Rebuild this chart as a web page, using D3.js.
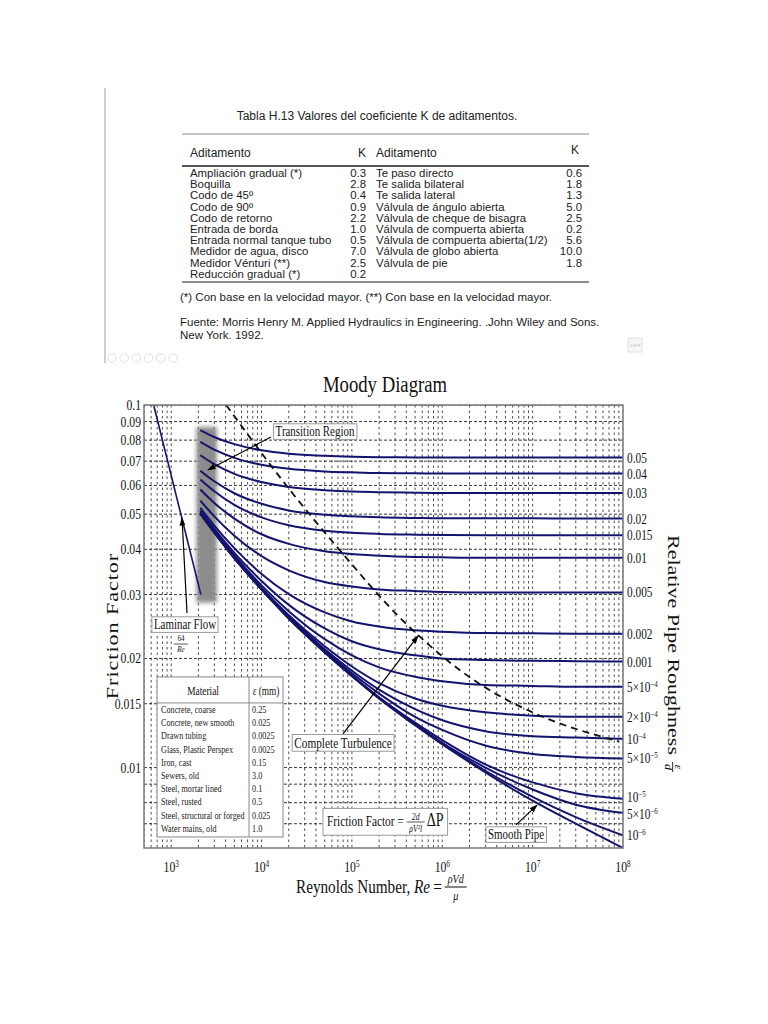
<!DOCTYPE html>
<html lang="es">
<head>
<meta charset="UTF-8"/>
<title>Moody Diagram</title>
<style>
  *{margin:0;padding:0}
  body{background:#fff;width:768px;height:1024px;overflow:hidden}
  svg{display:block}
</style>
</head>
<body>
<svg id="page" width="768" height="1024"></svg>
<script src="https://d3js.org/d3.v7.min.js"></script>
<script>
// ---------- Tabla H.13 ----------
const fittingsA = ['Ampliación gradual (*)','Boquilla','Codo de 45º','Codo de 90º','Codo de retorno',
  'Entrada de borda','Entrada normal tanque tubo','Medidor de agua, disco','Medidor Vénturi (**)','Reducción gradual (*)'];
const kA = ['0.3','2.8','0.4','0.9','2.2','1.0','0.5','7.0','2.5','0.2'];
const fittingsB = ['Te paso directo','Te salida bilateral','Te salida lateral','Válvula de ángulo abierta',
  'Válvula de cheque de bisagra','Válvula de compuerta abierta','Válvula de compuerta abierta(1/2)',
  'Válvula de globo abierta','Válvula de pie'];
const kB = ['0.6','1.8','1.3','5.0','2.5','0.2','5.6','10.0','1.8'];

// ---------- Moody diagram ----------
const reynolds = [2100, 3000, 5000, 1e4, 2e4, 5e4, 1e5, 2e5, 5e5, 1e6, 3e6, 1e7, 3e7, 1e8];
const roughLabels = ['0.05','0.04','0.03','0.02','0.015','0.01','0.005','0.002','0.001',
  '5×10^-4','2×10^-4','10^-4','5×10^-5','10^-5','5×10^-6','10^-6'];
// friction factor, at the reynolds values above
const friction = [
  [0.0853,0.0816,0.0780,0.0750,0.0734,0.0724,0.0720,0.0718,0.0717,0.0716,0.0716,0.0716,0.0716,0.0716],
  [0.0791,0.0753,0.0715,0.0684,0.0667,0.0656,0.0652,0.0649,0.0648,0.0647,0.0647,0.0647,0.0647,0.0647],
  [0.0727,0.0687,0.0646,0.0613,0.0594,0.0582,0.0577,0.0575,0.0573,0.0572,0.0572,0.0572,0.0572,0.0572],
  [0.0659,0.0616,0.0571,0.0534,0.0512,0.0498,0.0493,0.0490,0.0488,0.0487,0.0487,0.0487,0.0486,0.0486],
  [0.0623,0.0578,0.0530,0.0490,0.0466,0.0450,0.0444,0.0441,0.0439,0.0438,0.0437,0.0437,0.0437,0.0437],
  [0.0585,0.0537,0.0486,0.0440,0.0414,0.0395,0.0388,0.0384,0.0381,0.0380,0.0379,0.0379,0.0379,0.0379],
  [0.0545,0.0493,0.0436,0.0383,0.0350,0.0325,0.0316,0.0310,0.0307,0.0305,0.0304,0.0304,0.0304,0.0304],
  [0.0520,0.0465,0.0403,0.0342,0.0301,0.0268,0.0253,0.0245,0.0239,0.0237,0.0235,0.02345,0.0234,0.0234],
  [0.0511,0.0455,0.0391,0.0327,0.0281,0.0242,0.0223,0.0212,0.0204,0.0200,0.0198,0.0197,0.01965,0.0196],
  [0.0507,0.0450,0.0385,0.0318,0.0270,0.0226,0.0204,0.0189,0.0178,0.0173,0.0169,0.0168,0.0167,0.0167],
  [0.0504,0.0447,0.0381,0.0313,0.0263,0.0216,0.0190,0.0171,0.0155,0.0148,0.0142,0.0139,0.0138,0.0138],
  [0.0503,0.0446,0.0380,0.0312,0.0261,0.0212,0.0185,0.0164,0.0145,0.0135,0.0126,0.0122,0.0121,0.0120],
  [0.0503,0.0445,0.0379,0.0311,0.0259,0.0210,0.0182,0.0160,0.0138,0.0127,0.0115,0.0109,0.0107,0.0106],
  [0.0502,0.0445,0.0378,0.0310,0.0258,0.0208,0.0179,0.0156,0.0133,0.0119,0.0102,0.0091,0.0085,0.0082],
  [0.0502,0.0445,0.0378,0.0310,0.0258,0.0208,0.0179,0.0156,0.0132,0.0117,0.0100,0.0087,0.0079,0.0075],
  [0.0502,0.0445,0.0378,0.0310,0.0258,0.0208,0.0179,0.0155,0.0131,0.0116,0.0098,0.0083,0.0073,0.0065]
];
const smoothPipe = [0.0502,0.0445,0.0378,0.0310,0.0258,0.0208,0.0179,0.0155,0.0131,0.0116,0.0097,0.0081,0.0070,0.0060];
const laminarRe = [640, 2130];
const laminarF = [0.1, 0.03];
// dashed boundary of complete turbulence
const turbRe = [4060, 19700, 72000, 325000, 2.9e6, 9.6e6, 9e7];
const turbF = [0.1, 0.0591, 0.040, 0.0262, 0.0167, 0.01426, 0.0118];
const transRe = [1900, 3200];
const transF = [0.087, 0.0285];
const yTicks = [0.1,0.09,0.08,0.07,0.06,0.05,0.04,0.03,0.02,0.015,0.01];
const yGridExtra = [0.009,0.008,0.007];
const xTickExp = [3,4,5,6,7,8];
const materials = ['Concrete, coarse','Concrete, new smooth','Drawn tubing','Glass, Plastic Perspex','Iron, cast',
  'Sewers, old','Steel, mortar lined','Steel, rusted','Steel, structural or forged','Water mains, old'];
const materialEps = ['0.25','0.025','0.0025','0.0025','0.15','3.0','0.1','0.5','0.025','1.0'];

const svg = d3.select('#page');
const serif = "'Liberation Serif','DejaVu Serif',serif";
const sans = "'Liberation Sans',Arial,sans-serif";
const SX = 0.78;   // the scanned figure is squeezed sideways
const ink = '#14146e';

function label(g, x, y, s, o = {}) {
  return g.append('text')
    .attr('transform', `translate(${x},${y}) scale(${o.sx ?? SX},1)`)
    .attr('text-anchor', o.anchor || 'start')
    .attr('font-family', o.font || serif)
    .attr('font-size', o.size || 14)
    .attr('font-style', o.italic ? 'italic' : null)
    .attr('fill', o.fill || '#111')
    .text(s);
}
function powLabel(g, x, y, s, o = {}) {
  const sz = o.size || 14;
  const t = label(g, x, y, '', o);
  const [base, sup] = s.split('^');
  t.append('tspan').text(base);
  if (sup) t.append('tspan').attr('dy', -sz * 0.36).attr('font-size', sz * 0.62).text(sup.replace('-', '−'));
  return t;
}

// ================= scanned table =================
const tab = svg.append('g');
tab.append('line').attr('x1',105).attr('x2',105).attr('y1',88).attr('y2',363).attr('stroke','#cfcfcf').attr('stroke-width',2);
d3.range(6).forEach(i => tab.append('circle').attr('cx',112+i*12.2).attr('cy',358).attr('r',4.3)
  .attr('fill','none').attr('stroke','#e0e0e0'));
tab.append('rect').attr('x',628).attr('y',338).attr('width',14).attr('height',14).attr('fill','#f6f6f6').attr('stroke','#e2e2e2');
tab.append('text').attr('x',635).attr('y',347).attr('text-anchor','middle').attr('font-size',4).attr('fill','#aaa').text('A W P');

const tx = {font:sans, size:11.4, sx:1, fill:'#222'};
label(tab, 377, 120, 'Tabla H.13 Valores del coeficiente K de aditamentos.', {...tx, size:12, anchor:'middle'});
[[134,1,'#8a8a8a'],[166,1.8,'#555'],[282,1.5,'#666']].forEach(([yy,w,c]) =>
  tab.append('line').attr('x1',182).attr('x2',589).attr('y1',yy).attr('y2',yy).attr('stroke',c).attr('stroke-width',w));
label(tab, 190, 157, 'Aditamento', {...tx, size:12});
label(tab, 366, 157, 'K', {...tx, size:12, anchor:'end'});
label(tab, 376, 157, 'Aditamento', {...tx, size:12});
label(tab, 579, 154, 'K', {...tx, size:12, anchor:'end'});
fittingsA.forEach((s,i) => {
  label(tab, 190, 177 + i*11.2, s, tx);
  label(tab, 366, 177 + i*11.2, kA[i], {...tx, anchor:'end'});
});
fittingsB.forEach((s,i) => {
  label(tab, 376, 177 + i*11.2, s, tx);
  label(tab, 582, 177 + i*11.2, kB[i], {...tx, anchor:'end'});
});
const fn = {font:sans, size:11.5, sx:1, fill:'#222'};
label(tab, 180, 301, '(*) Con base en la velocidad mayor. (**) Con base en la velocidad mayor.', fn);
label(tab, 180, 326, 'Fuente:  Morris Henry M. Applied Hydraulics in Engineering. .John Wiley and Sons.', fn);
label(tab, 180, 339, 'New York. 1992.', fn);

// ================= Moody diagram =================
const P = {l:144, r:623, t:405, b:848};
const x = d3.scaleLog().domain([500, 1e8]).range([P.l, P.r]);
const y = d3.scaleLog().domain([0.1, 0.006]).range([P.t, P.b]);
const moody = svg.append('g');

const defs = svg.append('defs');
defs.append('clipPath').attr('id','plot').append('rect')
  .attr('x',P.l).attr('y',P.t).attr('width',P.r-P.l).attr('height',P.b-P.t);
defs.append('filter').attr('id','soft').attr('x','-60%').attr('y','-20%').attr('width','220%').attr('height','140%')
  .append('feGaussianBlur').attr('stdDeviation',2.2);
defs.append('marker').attr('id','arr').attr('viewBox','0 0 10 10').attr('refX',9).attr('refY',5)
  .attr('markerWidth',7).attr('markerHeight',7).attr('orient','auto')
  .append('path').attr('d','M0,1.5L10,5L0,8.5z').attr('fill','#000');

label(moody, 385, 392, 'Moody Diagram', {size:24, anchor:'middle'});

// grid
const grid = moody.append('g').attr('clip-path','url(#plot)');
grid.selectAll('line.v').data(x.ticks(10)).join('line').attr('class','v')
  .attr('x1',d=>x(d)).attr('x2',d=>x(d)).attr('y1',P.t).attr('y2',P.b)
  .attr('stroke','#222').attr('stroke-width',0.8).attr('stroke-dasharray','2.5,3');
grid.selectAll('line.h').data(yTicks.concat(yGridExtra)).join('line').attr('class','h')
  .attr('x1',P.l).attr('x2',P.r).attr('y1',d=>y(d)).attr('y2',d=>y(d))
  .attr('stroke','#222').attr('stroke-width',0.9).attr('stroke-dasharray','3,2');

// transition band
moody.append('rect').attr('x',x(transRe[0])).attr('y',y(transF[0]))
  .attr('width',x(transRe[1])-x(transRe[0])).attr('height',y(transF[1])-y(transF[0]))
  .attr('fill','#8c8c8c').attr('filter','url(#soft)');

const plot = moody.append('g').attr('clip-path','url(#plot)');
const line = d3.line().x(d=>x(d[0])).y(d=>y(d[1])).curve(d3.curveMonotoneX);
plot.selectAll('path.rough').data(friction.concat([smoothPipe])).join('path').attr('class','rough')
  .attr('d', fs => line(reynolds.map((re,j)=>[re, fs[j]])))
  .attr('fill','none').attr('stroke',ink).attr('stroke-width',2);
plot.append('path').attr('d', line(laminarRe.map((re,i)=>[re, laminarF[i]])))
  .attr('fill','none').attr('stroke',ink).attr('stroke-width',1.6);
plot.append('path').attr('d', line(turbRe.map((re,i)=>[re, turbF[i]])))
  .attr('fill','none').attr('stroke','#111').attr('stroke-width',1.8).attr('stroke-dasharray','7,5');

// frame
moody.append('rect').attr('x',P.l).attr('y',P.t).attr('width',P.r-P.l).attr('height',P.b-P.t)
  .attr('fill','none').attr('stroke','#777').attr('stroke-width',1.5);

// y tick labels
yTicks.forEach(v => label(moody, P.l-3, y(v)+5, String(v), {size:15, anchor:'end'}));
// x tick labels
xTickExp.forEach(e => powLabel(moody, x(Math.pow(10,e)), 872, '10^'+e, {size:15, anchor:'middle'}));
// right-hand roughness labels, nudged apart where they crowd
let lastY = -Infinity;
roughLabels.forEach((s,i) => {
  let ty = y(friction[i][reynolds.length-1]) + 5;
  if (ty - lastY < 15) ty = lastY + 15;
  lastY = ty;
  powLabel(moody, P.r+4, ty, s, {size:14.5});
});
// keep 10^-5 clear of the 5x10^-6 label below it
moody.selectAll('text').filter(function(){ return this.textContent === '10−5'; })
  .attr('transform', function(){ return this.getAttribute('transform').replace(/,([\d.]+)\)/, (m,v)=>','+(+v-2)+')'); });

// axis titles
const yl = moody.append('g').attr('transform','translate(118,626) rotate(-90) scale(1,0.78)');
yl.append('text').attr('text-anchor','middle').attr('font-family',serif).attr('font-size',22)
  .attr('letter-spacing',1).attr('fill','#111').text('Friction Factor');
const rl = moody.append('g').attr('transform','translate(668,645) rotate(90) scale(1,0.78)');
rl.append('text').attr('text-anchor','middle').attr('font-family',serif).attr('font-size',22)
  .attr('fill','#111').text('Relative Pipe Roughness');
rl.append('text').attr('x',122).attr('y',-9).attr('text-anchor','middle').attr('font-family',serif)
  .attr('font-size',12).attr('font-style','italic').text('ε');
rl.append('line').attr('x1',117).attr('x2',127).attr('y1',-6).attr('y2',-6).attr('stroke','#111');
rl.append('text').attr('x',122).attr('y',4).attr('text-anchor','middle').attr('font-family',serif)
  .attr('font-size',12).attr('font-style','italic').text('d');

const xl = moody.append('g');
const xt = label(xl, 296, 893, '', {size:19.5});
xt.append('tspan').text('Reynolds Number, ');
xt.append('tspan').attr('font-style','italic').text('Re');
xt.append('tspan').attr('dx',4).text('=');
let bb = xl.node().getBBox();
const fx = bb.x + bb.width + 14;
label(xl, fx, 883, 'ρVd', {size:13, italic:true, anchor:'middle'});
xl.append('line').attr('x1',fx-11).attr('x2',fx+11).attr('y1',887).attr('y2',887).attr('stroke','#111');
label(xl, fx, 900, 'μ', {size:13, italic:true, anchor:'middle'});

// ---- annotations, anchored in data units ----
const notes = [
  {text:'Transition Region', at:[3.9e4, 0.0821], from:[1.27e4, 0.0816], to:[2550, 0.0662], size:14},
  {text:'Laminar Flow', at:[1420, 0.0241], from:[1496, 0.0267], to:[1317, 0.0488], size:14},
  {text:'Complete Turbulence', at:[7.97e4, 0.01133], from:[7.97e4, 0.01238], to:[5.39e5, 0.02307], size:14.5},
  {text:'Smooth Pipe', at:[6.55e6, 0.00635], from:[6.55e6, 0.00695], to:[1.118e7, 0.00788], size:14}
];
function boxIt(g, pad) {
  const b = g.node().getBBox();
  g.insert('rect', ':first-child').attr('x',b.x-pad).attr('y',b.y).attr('width',b.width+2*pad)
    .attr('height',b.height).attr('fill','#fff').attr('stroke','#9a9a9a');
}
notes.forEach(n => {
  moody.append('line').attr('x1',x(n.from[0])).attr('y1',y(n.from[1])).attr('x2',x(n.to[0])).attr('y2',y(n.to[1]))
    .attr('stroke','#000').attr('stroke-width',1.2).attr('marker-end','url(#arr)');
  const g = moody.append('g');
  label(g, x(n.at[0]), y(n.at[1]), n.text, {size:n.size, anchor:'middle'});
  boxIt(g, 2);
});
// 64/Re under the laminar label
const lam = notes[1];
const lx = x(lam.at[0]) - 4, ly = y(lam.at[1]);
label(moody, lx, ly + 12, '64', {size:9, anchor:'middle'});
moody.append('line').attr('x1',lx-7).attr('x2',lx+7).attr('y1',ly+15).attr('y2',ly+15).attr('stroke','#111').attr('stroke-width',0.7);
label(moody, lx, ly + 23, 'Re', {size:9, italic:true, anchor:'middle'});

// friction factor definition box
const ffAt = [5.3e4, 0.0069];
const ff = moody.append('g');
label(ff, x(ffAt[0]), y(ffAt[1]), 'Friction Factor =', {size:14.5});
bb = ff.node().getBBox();
const cx = bb.x + bb.width + 12, by = y(ffAt[1]);
label(ff, cx, by - 6, '2d', {size:10, italic:true, anchor:'middle'});
ff.append('line').attr('x1',cx-9).attr('x2',cx+9).attr('y1',by-4).attr('y2',by-4).attr('stroke','#111').attr('stroke-width',0.7);
label(ff, cx, by + 6, 'ρV²l', {size:10, italic:true, anchor:'middle'});
label(ff, cx + 11, by, 'ΔP', {size:18});
bb = ff.node().getBBox();
ff.insert('rect', ':first-child').attr('x',bb.x-4).attr('y',bb.y-2).attr('width',bb.width+8).attr('height',bb.height+3)
  .attr('fill','#fff').attr('stroke','#9a9a9a');

// material table
const matAt = [697, 0.01778];
const mx = x(matAt[0]), my = y(matAt[1]);
const mt = moody.append('g');
mt.append('rect').attr('x',mx).attr('y',my).attr('width',126).attr('height',160).attr('fill','#fff').attr('stroke','#888');
mt.append('line').attr('x1',mx).attr('x2',mx+126).attr('y1',my+26).attr('y2',my+26).attr('stroke','#888');
mt.append('line').attr('x1',mx+92).attr('x2',mx+92).attr('y1',my).attr('y2',my+160).attr('stroke','#888');
label(mt, mx+46, my+18, 'Material', {size:12, anchor:'middle'});
const eh = label(mt, mx+109, my+18, '', {size:12, anchor:'middle'});
eh.append('tspan').attr('font-style','italic').text('ε');
eh.append('tspan').text(' (mm)');
materials.forEach((s,i) => {
  label(mt, mx+4, my+36+i*13.2, s, {size:10.5, fill:'#222'});
  label(mt, mx+95, my+36+i*13.2, materialEps[i], {size:10.5, fill:'#222'});
});
</script>
</body>
</html>
